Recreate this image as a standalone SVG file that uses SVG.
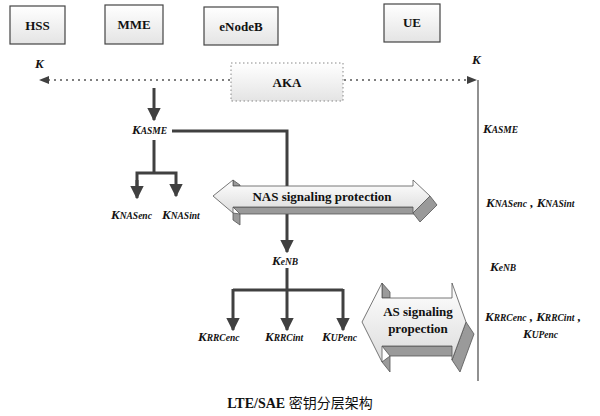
<svg xmlns="http://www.w3.org/2000/svg" width="600" height="416" viewBox="0 0 600 416">
<defs>
<linearGradient id="bx" x1="0" y1="0" x2="0" y2="1"><stop offset="0" stop-color="#ffffff"/><stop offset="1" stop-color="#e4e4e4"/></linearGradient>
<linearGradient id="ar" x1="0" y1="0" x2="0" y2="1"><stop offset="0" stop-color="#ffffff"/><stop offset="1" stop-color="#dcdcdc"/></linearGradient>
<marker id="ah" viewBox="0 0 10 10" refX="9" refY="5" markerWidth="4.5" markerHeight="4.5" orient="auto"><path d="M0,0 L10,5 L0,10 z" fill="#404040"/></marker>
<marker id="dh" viewBox="0 0 10 10" refX="9" refY="5" markerWidth="7" markerHeight="7" orient="auto"><path d="M0,1 L10,5 L0,9 z" fill="#404040"/></marker>
</defs>
<style>
.box{fill:url(#bx);stroke:#444;stroke-width:1.2}
.t{font-family:"Liberation Serif","DejaVu Serif",serif;font-weight:bold;font-size:13px;fill:#111;text-anchor:middle}
.k{font-family:"Liberation Serif","DejaVu Serif",serif;font-weight:bold;font-style:italic;font-size:13px;fill:#111}
.s{font-size:9.5px}
.ln{stroke:#404040;stroke-width:3;fill:none}
.face{fill:url(#ar);stroke:#555;stroke-width:0.8}
.side{fill:#9a9a9a;stroke:#555;stroke-width:0.8}
</style>
<rect width="600" height="416" fill="#fff"/>
<g id="hss"><rect class="box" x="10" y="6" width="55" height="38"/><text class="t" x="37.5" y="30">HSS</text></g>
<g id="mme"><rect class="box" x="105" y="5" width="58" height="39"/><text class="t" x="134" y="29">MME</text></g>
<g id="enb"><rect class="box" x="204" y="7" width="74" height="38"/><text class="t" x="241" y="31">eNodeB</text></g>
<g id="ue"><rect class="box" x="384" y="4" width="56" height="38"/><text class="t" x="412" y="27">UE</text></g>
<g id="aka"><rect x="231" y="63" width="112" height="38" fill="url(#bx)" stroke="#888" stroke-dasharray="1.5,2.5"/><text class="t" x="287" y="87">AKA</text></g>
<g id="connectors">
<line x1="230" y1="80" x2="40" y2="80" stroke="#555" stroke-width="1.5" stroke-dasharray="2,4" marker-end="url(#dh)"/>
<line x1="344" y1="80" x2="476" y2="80" stroke="#555" stroke-width="1.5" stroke-dasharray="2,4" marker-end="url(#dh)"/>
<line x1="478" y1="80" x2="478" y2="381" stroke="#555" stroke-width="1.3"/>
<line class="ln" x1="154" y1="88" x2="154" y2="120" marker-end="url(#ah)"/>
<polyline class="ln" points="172,131 287,131 287,252" marker-end="url(#ah)"/>
<polyline class="ln" points="154,140 154,173"/>
<polyline class="ln" points="137,196 137,173 176,173 176,196" marker-end="url(#ah)"/>
<line class="ln" x1="137" y1="180" x2="137" y2="198" marker-end="url(#ah)"/>
<line class="ln" x1="287" y1="268" x2="287" y2="290"/>
<polyline class="ln" points="233,290 343,290"/>
<line class="ln" x1="233" y1="289" x2="233" y2="330" marker-end="url(#ah)"/>
<line class="ln" x1="287" y1="289" x2="287" y2="330" marker-end="url(#ah)"/>
<line class="ln" x1="343" y1="289" x2="343" y2="330" marker-end="url(#ah)"/>
</g>
<g id="nas">
<polygon class="side" points="233,207 413,207 420,214 240,214"/>
<polygon class="side" points="233,213 240,214 240,225 233,220"/>
<polygon class="side" points="430,196 437,205 420,222 413,213"/>
<polygon class="side" points="233,180 240,185 240,186 233,186"/>
<polygon class="face" points="213,196 233,180 233,186 413,186 413,180 430,196 413,213 413,207 233,207 233,213"/>
<text class="t" x="322" y="201">NAS signaling protection</text>
</g>
<g id="as">
<polygon class="side" points="382,346 452,346 460,356 390,356"/>
<polygon class="side" points="382,362 390,356 390,372"/>
<polygon class="side" points="466,322 474,334 460,372 452,360"/>
<polygon class="side" points="382,283 390,292 390,298 382,298"/>
<polygon class="face" points="362,322 382,283 382,298 452,298 452,283 466,322 452,360 452,346 382,346 382,362"/>
<text class="t" x="418" y="316">AS signaling</text>
<text class="t" x="418" y="333">propection</text>
</g>
<g id="keys">
<text class="k" x="35" y="68">K</text>
<text class="k" x="472" y="64">K</text>
<text class="k" x="132" y="134">K<tspan class="s">ASME</tspan></text>
<text class="k" x="111" y="219">K<tspan class="s">NASenc</tspan></text>
<text class="k" x="162" y="219">K<tspan class="s">NASint</tspan></text>
<text class="k" x="272" y="265">K<tspan class="s">eNB</tspan></text>
<text class="k" x="198" y="341">K<tspan class="s">RRCenc</tspan></text>
<text class="k" x="265" y="341">K<tspan class="s">RRCint</tspan></text>
<text class="k" x="322" y="341">K<tspan class="s">UPenc</tspan></text>
<text class="k" x="483" y="133">K<tspan class="s">ASME</tspan></text>
<text class="k" x="486" y="207">K<tspan class="s">NASenc</tspan> , K<tspan class="s">NASint</tspan></text>
<text class="k" x="490" y="271">K<tspan class="s">eNB</tspan></text>
<text class="k" x="485" y="321">K<tspan class="s">RRCenc</tspan> , K<tspan class="s">RRCint</tspan> ,</text>
<text class="k" x="523" y="338">K<tspan class="s">UPenc</tspan></text>
</g>
<text x="300" y="408" style="font-family:'Liberation Serif','Noto Sans CJK SC',serif;font-size:14px;text-anchor:middle;fill:#111"><tspan font-weight="bold">LTE/SAE</tspan> 密钥分层架构</text>
</svg>
